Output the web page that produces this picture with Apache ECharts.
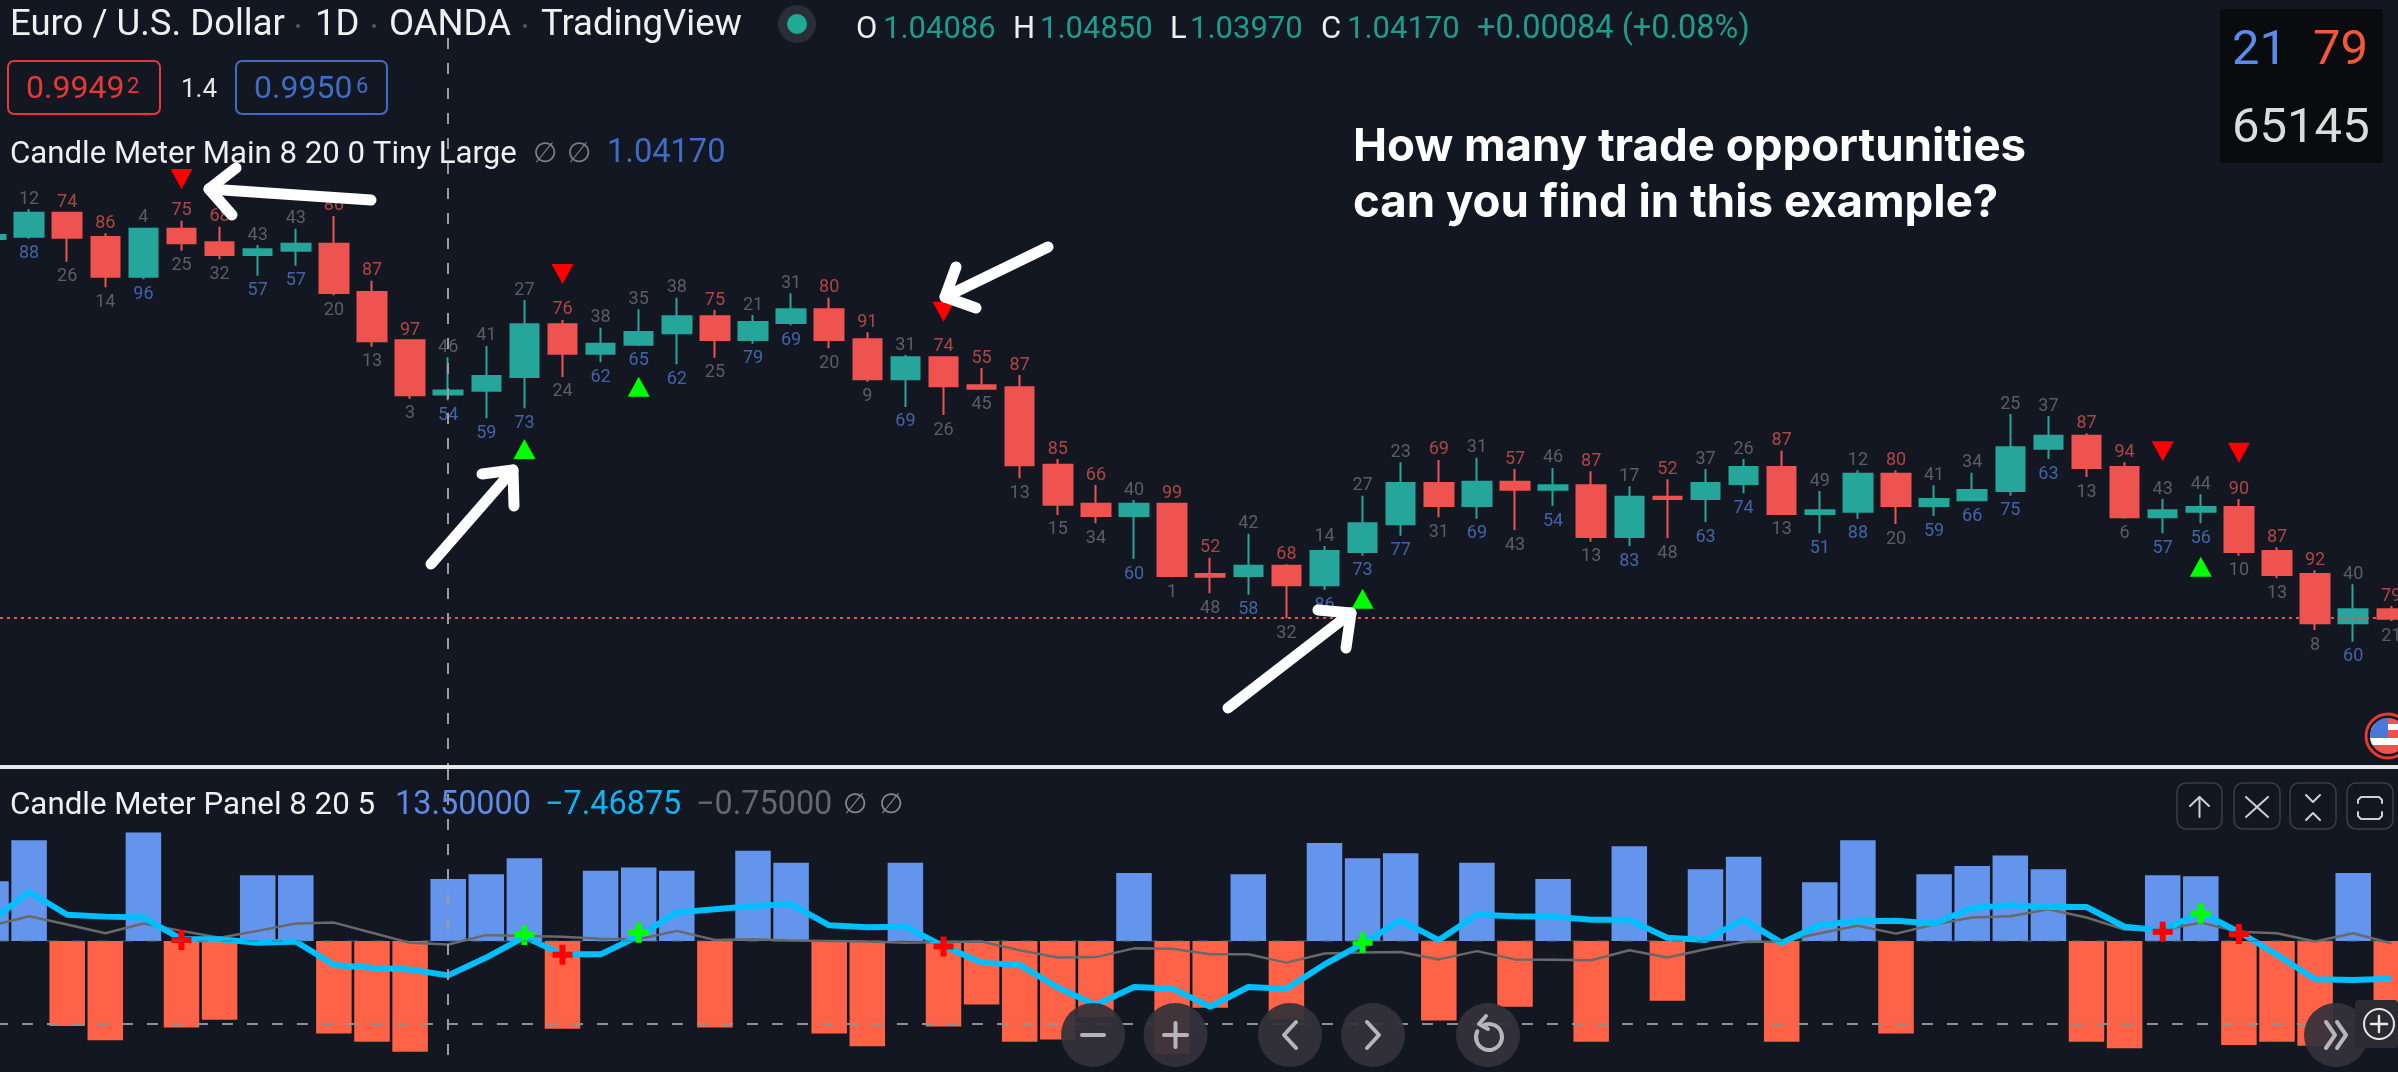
<!DOCTYPE html>
<html>
<head>
<meta charset="utf-8">
<title>Euro / U.S. Dollar 1D</title>
<script src="https://cdn.jsdelivr.net/npm/echarts@6/dist/echarts.min.js"></script>
<style>
  html, body { margin: 0; padding: 0; background: #131722; }
  #chart { width: 2398px; height: 1072px; }
</style>
</head>
<body>
<div id="chart"></div>
<script>
// daily candles, first entry is the bar cut off at the left edge
const opens = [1.07274,1.07322,1.07813,1.07315,1.06502,1.07486,1.07207,1.06947,1.07035,1.07178,1.06188,1.05199,1.04086,1.04166,1.04447,1.05526,1.04924,1.05108,1.05342,1.05690,1.05205,1.05553,1.05834,1.05219,1.04399,1.04850,1.04276,1.04235,1.02649,1.01850,1.01598,1.01850,1.00410,1.00369,1.00580,1.00178,1.00860,1.01428,1.02274,1.01803,1.02301,1.02137,1.02227,1.01168,1.01994,1.01946,1.02254,1.02602,1.01639,1.01686,1.02465,1.01803,1.01920,1.02110,1.02977,1.03244,1.02602,1.01572,1.01686,1.01783,1.00881,1.00410,0.99399,0.99686];
const closes = [1.07356,1.07813,1.07301,1.06502,1.07486,1.07186,1.06947,1.07063,1.07178,1.06168,1.05178,1.04072,1.04170,1.04467,1.05526,1.04924,1.05129,1.05369,1.05690,1.05205,1.05574,1.05834,1.05205,1.04399,1.04850,1.04256,1.04207,1.02637,1.01830,1.01598,1.01850,1.00369,1.00354,1.00580,1.00178,1.00881,1.01449,1.02274,1.01803,1.02301,1.02137,1.02227,1.01168,1.01994,1.01946,1.02274,1.02602,1.01639,1.01715,1.02465,1.01803,1.01946,1.02131,1.03006,1.03244,1.02582,1.01572,1.01715,1.01783,1.00860,1.00389,0.99399,0.99686,0.99494];
const highs = [1.07397,1.07889,1.07813,1.07391,1.07506,1.07649,1.07527,1.07151,1.07486,1.07746,1.06420,1.05199,1.04850,1.05082,1.06024,1.05615,1.05457,1.05834,1.06072,1.05819,1.05717,1.06162,1.06072,1.05362,1.04897,1.04871,1.04631,1.04487,1.02766,1.02233,1.01926,1.01850,1.00744,1.01235,1.00608,1.00983,1.02014,1.02699,1.02746,1.02793,1.02561,1.02582,1.02514,1.02207,1.02350,1.02561,1.02766,1.02936,1.02110,1.02535,1.02535,1.02227,1.02485,1.03688,1.03647,1.03293,1.02699,1.01946,1.02043,1.01946,1.00957,1.00485,1.00198,0.99754];
const lows = [1.07233,1.07281,1.06809,1.06285,1.06449,1.07035,1.06858,1.06522,1.06727,1.06121,1.05067,1.03996,1.03970,1.03600,1.03805,1.04447,1.04748,1.05082,1.04707,1.04842,1.05129,1.05506,1.05035,1.04350,1.03832,1.03668,1.04194,1.02371,1.01619,1.01449,1.00717,1.00342,1.00014,0.99986,0.99502,1.00082,1.00785,1.01194,1.01572,1.01543,1.01311,1.01803,1.01072,1.00983,1.01147,1.01475,1.02063,1.01639,1.01244,1.01543,1.01434,1.01598,1.01899,1.02014,1.02766,1.02397,1.01543,1.01244,1.01449,1.00785,1.00321,0.99262,0.99022,0.99446];

// candle meter percentages printed above and below each candle
const upperPct = [null,12,74,86,4,75,68,43,43,80,87,97,46,41,27,76,38,35,38,75,21,31,80,91,31,74,55,87,85,66,40,99,52,42,68,14,27,23,69,31,57,46,87,17,52,37,26,87,49,12,80,41,34,25,37,87,94,43,44,90,87,92,40,79];
const lowerPct = [null,88,26,14,96,25,32,57,57,20,13,3,54,59,73,24,62,65,62,25,79,69,20,9,69,26,45,13,15,34,60,1,48,58,32,86,73,77,31,69,43,54,13,83,48,63,74,13,51,88,20,59,66,75,63,13,6,57,56,10,13,8,60,21];

// signal triangles on the price pane
const sellBars = [5,15,25,57,59];
const sellPrices = [1.08504,1.06557,1.05785,1.02924,1.02893];
const buyBars = [14,17,36,58];
const buyPrices = [1.02971,1.04246,0.99901,1.00559];

// panel histogram and lines
const panelBars = [13.0,21.9,-18.5,-21.6,23.6,-18.8,-17.1,14.3,14.3,-20.1,-21.9,-24.1,13.5,14.5,18.0,-19.1,15.3,16.0,15.3,-18.8,19.6,17.0,-20.1,-22.9,17.0,-18.6,-13.8,-21.9,-21.4,-16.5,14.8,-24.5,-14.5,14.5,-17.0,21.3,18.0,19.1,-17.3,17.0,-14.3,13.5,-21.9,20.6,-13.0,15.6,18.3,-21.9,12.8,21.9,-20.1,14.5,16.3,18.6,15.6,-21.9,-23.3,14.3,14.1,-22.6,-21.9,-22.8,14.8,-21.0];
const fastLine = [4.3,10.7,5.7,5.3,5.1,0.4,0.4,-0.4,-0.1,-5.2,-5.8,-6.2,-7.47,-3.6,0.9,-2.9,-2.9,1.1,6.2,6.9,7.6,8.0,3.4,3.0,3.1,-1.1,-4.7,-5.2,-10.1,-13.9,-10.0,-10.3,-14.3,-10.0,-10.4,-5.1,-0.6,4.5,0.2,5.7,5.4,5.3,4.6,4.6,0.7,0.2,4.7,-0.4,3.5,4.3,4.4,3.8,7.2,7.8,7.4,7.4,3.1,2.3,6.2,2.0,-3.0,-8.3,-8.5,-8.2];
const slowLine = [3.3,5.4,3.6,1.7,3.8,2.2,0.7,2.2,3.8,4.0,1.8,-0.4,-0.75,1.3,1.1,0.9,0.5,0.4,2.2,0.2,0.4,0.1,0.0,-0.1,-0.4,-0.2,-0.1,-2.0,-3.6,-3.5,-1.6,-1.7,-2.9,-2.9,-4.7,-2.7,-2.5,-2.4,-4.0,-2.2,-4.0,-4.1,-4.2,-2.0,-3.6,-1.8,-0.2,-0.1,1.7,3.3,1.6,3.6,5.1,5.4,6.9,5.1,2.5,2.4,4.0,2.0,1.7,-0.1,1.7,-0.5];
const redCrossBars = [5,15,25,57,59];
const redCrossValues = [0.2,-3.0,-1.2,2.0,1.5];
const greenCrossBars = [14,17,36,58];
const greenCrossValues = [1.3,1.8,-0.4,6.0];

const lastPrice = 0.99510;
const crosshairBar = 12;
const panelLevel = -18;

const categories = opens.map((_, i) => i);

const FONT = 'Roboto';
const BG = '#131722';
const UP = '#26a69a';
const DOWN = '#ef5350';
const CROSS_PATH = 'path://M35 0H65V35H100V65H65V100H35V65H0V35H35Z';

const pctColor = (v, hot) => (v > 50 ? hot : '#6e6e76');

const upperLabels = upperPct.map((v, i) => (v === null ? null : {
  value: [i, highs[i]],
  label: { formatter: String(v), color: pctColor(v, '#d5534c') }
})).filter(Boolean);
const lowerLabels = lowerPct.map((v, i) => (v === null ? null : {
  value: [i, lows[i]],
  label: { formatter: String(v), color: pctColor(v, '#5077c8') }
})).filter(Boolean);

const zip = (xs, ys) => xs.map((x, i) => [x, ys[i]]);

// overlay helpers, these are chrome around the chart and not chart marks
const text = (x, y, str, size, color, extra) => ({
  type: 'text', z: 100, x, y,
  style: Object.assign({ text: str, font: size + 'px ' + FONT, fill: color, align: 'left', verticalAlign: 'middle' }, extra || {})
});
const box = (x, y, w, h, r, stroke, fill, lineWidth) => ({
  type: 'rect', z: 90, shape: { x, y, width: w, height: h, r },
  style: { fill: fill || 'transparent', stroke: stroke || 'transparent', lineWidth: lineWidth || 2 }
});
const stroke = (points, color, width, z) => ({
  type: 'polyline', z: z || 120, shape: { points },
  style: { fill: null, stroke: color, lineWidth: width, lineCap: 'round', lineJoin: 'round' }
});
const circle = (cx, cy, r, fill, line, lineWidth, z) => ({
  type: 'circle', z: z || 110, shape: { cx, cy, r },
  style: { fill, stroke: line || 'transparent', lineWidth: lineWidth || 0 }
});
const arrow = (tail, tip, h1, h2) => [
  stroke([tail, tip], '#ffffff', 11, 130),
  stroke([h1, tip, h2], '#ffffff', 11, 130)
];

const flag = 'data:image/svg+xml,' + encodeURIComponent(
  '<svg xmlns="http://www.w3.org/2000/svg" width="48" height="48"><defs><clipPath id="c"><circle cx="24" cy="24" r="18"/></clipPath></defs>' +
  '<g clip-path="url(#c)"><rect width="48" height="48" fill="#ef5350"/><rect y="26" width="48" height="7" fill="#fff"/><rect y="12" width="48" height="6" fill="#fff"/><rect width="24" height="26" fill="#4a78d8"/></g>' +
  '<circle cx="24" cy="24" r="22" fill="none" stroke="#e53935" stroke-width="3"/></svg>');

const NAV = 'rgba(52,50,57,0.93)';
const ICON = '#b6b6ba';
const graphics = [
  // header
  text(10, 26, 'Euro / U.S. Dollar', 36.5, '#f0f0f0'),
  circle(298, 26, 2, '#55585f'),
  text(315, 26, '1D', 36.5, '#f0f0f0'),
  circle(374, 26, 2, '#55585f'),
  text(389, 26, 'OANDA', 36.5, '#f0f0f0'),
  circle(525, 26, 2, '#55585f'),
  text(541, 26, 'TradingView', 36.5, '#f0f0f0'),
  circle(797, 24, 19, '#2a2e39'),
  circle(797, 24, 10, '#22ab94', null, 0, 111),
  text(856, 30, 'O', 31, '#f0f0f0'),
  text(883, 30, '1.04086', 31, '#1f9c8c'),
  text(1013, 30, 'H', 31, '#f0f0f0'),
  text(1040, 30, '1.04850', 31, '#1f9c8c'),
  text(1170, 30, 'L', 31, '#f0f0f0'),
  text(1190, 30, '1.03970', 31, '#1f9c8c'),
  text(1321, 30, 'C', 31, '#f0f0f0'),
  text(1347, 30, '1.04170', 31, '#1f9c8c'),
  text(1477, 30, '+0.00084 (+0.08%)', 32.5, '#1f9c8c'),
  // bid / ask boxes
  box(8, 61, 152, 53, 6, '#e53935'),
  text(26, 90, '0.9949', 32, '#e53935'),
  text(127, 87, '2', 22, '#e53935'),
  text(181, 90, '1.4', 26, '#e8e8e8'),
  box(236, 61, 151, 53, 6, '#3f6cc4'),
  text(254, 90, '0.9950', 32, '#3f6cc4'),
  text(356, 87, '6', 22, '#3f6cc4'),
  // indicator legends
  text(10, 155.5, 'Candle Meter Main 8 20 0 Tiny Large', 31.2, '#f0f0f0'),
  text(533, 155, '∅', 28, '#7c7c82'),
  text(567, 155, '∅', 28, '#7c7c82'),
  text(607, 154, '1.04170', 32.6, '#3f6cc4'),
  text(10, 806, 'Candle Meter Panel 8 20 5', 31.3, '#f0f0f0'),
  text(395, 806, '13.50000', 32.4, '#5f8be6'),
  text(545, 806, '−7.46875', 32.4, '#12b3f0'),
  text(696, 806, '−0.75000', 32.4, '#66666c'),
  text(843, 806, '∅', 28, '#85858a'),
  text(879, 806, '∅', 28, '#85858a'),
  // annotation
  text(1353, 147, 'How many trade opportunities', 45.6, '#ffffff', { font: 'bold 45.6px Inter' }),
  text(1353, 203, 'can you find in this example?', 45.6, '#ffffff', { font: 'bold 45.6px Inter' }),
  // counters box
  box(2220, 9, 163, 154, 0, null, '#0a0b0f', 0),
  text(2232, 52, '21', 49, '#5b8be8'),
  text(2313, 52, '79', 49, '#f0583c'),
  text(2232, 130, '65145', 49, '#dcdcdc'),
  // divider between panes
  { type: 'rect', z: 95, shape: { x: 0, y: 765, width: 2398, height: 4 }, style: { fill: '#e8e8ea' } },
  // flag
  { type: 'image', z: 100, style: { image: flag, x: 2364, y: 712, width: 48, height: 48 } },
  // pane buttons
  box(2177, 783, 45, 46, 9, '#3c3c44', null, 1.5),
  box(2234, 783, 46, 46, 9, '#3c3c44', null, 1.5),
  box(2290, 783, 46, 46, 9, '#3c3c44', null, 1.5),
  box(2347, 783, 46, 46, 9, '#3c3c44', null, 1.5),
  stroke([[2199.5, 817], [2199.5, 797]], '#cfcfd2', 2),
  stroke([[2190, 806], [2199.5, 797], [2209, 806]], '#cfcfd2', 2),
  stroke([[2246, 797], [2268, 817]], '#cfcfd2', 2),
  stroke([[2268, 797], [2246, 817]], '#cfcfd2', 2),
  stroke([[2306, 795], [2313, 802], [2320, 795]], '#cfcfd2', 2),
  stroke([[2306, 820], [2313, 813], [2320, 820]], '#cfcfd2', 2),
  stroke([[2358, 803], [2358, 800], [2361, 797], [2379, 797], [2382, 800], [2382, 803]], '#cfcfd2', 2),
  stroke([[2358, 812], [2358, 816], [2361, 819], [2379, 819], [2382, 816], [2382, 812]], '#cfcfd2', 2),
  // bottom navigation
  circle(1093, 1035, 32, NAV),
  stroke([[1082, 1035], [1104, 1035]], ICON, 4),
  circle(1175.5, 1035, 32, NAV),
  stroke([[1164, 1035], [1187, 1035]], ICON, 4),
  stroke([[1175.5, 1023], [1175.5, 1047]], ICON, 4),
  circle(1290, 1035, 32, NAV),
  stroke([[1296, 1022], [1284, 1035], [1296, 1048]], ICON, 4),
  circle(1373, 1035, 32, NAV),
  stroke([[1367, 1022], [1379, 1035], [1367, 1048]], ICON, 4),
  circle(1488, 1035, 32, NAV),
  { type: 'arc', z: 120, shape: { cx: 1489, cy: 1037, r: 13, startAngle: -1.9, endAngle: 3.6, clockwise: true }, style: { fill: null, stroke: ICON, lineWidth: 4, lineCap: 'round' } },
  stroke([[1486, 1016], [1479, 1024], [1488, 1029]], ICON, 4),
  circle(2336, 1035, 32, NAV),
  stroke([[2326, 1022], [2335, 1035], [2326, 1048]], ICON, 4),
  stroke([[2337, 1022], [2346, 1035], [2337, 1048]], ICON, 4),
  { type: 'rect', z: 111, shape: { x: 2355, y: 1000, width: 43, height: 48, r: 4 }, style: { fill: '#2a2a30' } },
  circle(2379, 1024, 15, 'transparent', '#e8e8ea', 2, 112),
  stroke([[2371, 1024], [2387, 1024]], '#e8e8ea', 2.5),
  stroke([[2379, 1016], [2379, 1032]], '#e8e8ea', 2.5)
].concat(
  arrow([371, 200], [209, 189], [236, 168], [232, 215]),
  arrow([431, 564], [513, 470], [482, 474], [514, 506]),
  arrow([1048, 247], [945, 297], [956, 267], [976, 308]),
  arrow([1228, 708], [1351, 613], [1318, 610], [1346, 648])
);

const crosshairStyle = { color: '#9a9aa2', width: 2, type: [11, 14] };

const option = {
  animation: false,
  backgroundColor: BG,
  grid: [
    { left: -28.05, width: 2438.4, top: 0, height: 765, outerBoundsMode: 'none' },
    { left: -28.05, width: 2438.4, top: 767, height: 305, outerBoundsMode: 'none' }
  ],
  xAxis: [
    { type: 'category', gridIndex: 0, data: categories, show: false },
    { type: 'category', gridIndex: 1, data: categories, show: false }
  ],
  yAxis: [
    { type: 'value', gridIndex: 0, min: 0.96496, max: 1.12172, show: false, splitLine: { show: false } },
    { type: 'value', gridIndex: 1, min: -28.48, max: 37.83, show: false, splitLine: { show: false } }
  ],
  series: [
    {
      type: 'candlestick', name: 'EURUSD', xAxisIndex: 0, yAxisIndex: 0, barWidth: 29,
      data: opens.map((o, i) => [o, closes[i], lows[i], highs[i]]),
      itemStyle: { color: UP, color0: DOWN, borderColor: UP, borderColor0: DOWN, borderWidth: 2 }
    },
    {
      type: 'scatter', name: 'upper', xAxisIndex: 0, yAxisIndex: 0, symbolSize: 0, data: upperLabels,
      label: { show: true, position: 'top', distance: 1, fontSize: 18, fontFamily: FONT },
      markLine: {
        silent: true, symbol: 'none', label: { show: false }, animation: false, precision: 5,
        data: [
          { yAxis: lastPrice, lineStyle: { color: DOWN, width: 2, type: [3, 4] } },
          [{ coord: [crosshairBar, 1.11393], lineStyle: crosshairStyle }, { coord: [crosshairBar, 0.96496] }]
        ]
      }
    },
    {
      type: 'scatter', name: 'lower', xAxisIndex: 0, yAxisIndex: 0, symbolSize: 0, data: lowerLabels,
      label: { show: true, position: 'bottom', distance: 6, fontSize: 18, fontFamily: FONT }
    },
    {
      type: 'scatter', name: 'sell', xAxisIndex: 0, yAxisIndex: 0, symbol: 'triangle', symbolRotate: 180, symbolSize: [22, 20],
      data: zip(sellBars, sellPrices), itemStyle: { color: '#ff0000', opacity: 1 }
    },
    {
      type: 'scatter', name: 'buy', xAxisIndex: 0, yAxisIndex: 0, symbol: 'triangle', symbolSize: [22, 20],
      data: zip(buyBars, buyPrices), itemStyle: { color: '#00ff00', opacity: 1 }
    },
    {
      type: 'bar', name: 'meter', xAxisIndex: 1, yAxisIndex: 1, barWidth: 35.5,
      data: panelBars,
      itemStyle: { color: p => (p.value >= 0 ? '#6495ed' : '#ff6347') },
      markLine: {
        silent: true, symbol: 'none', label: { show: false }, animation: false, z: 6, precision: 3,
        data: [
          { yAxis: 0, lineStyle: { color: 'rgba(80,110,120,0.45)', width: 2, type: [11, 14] } },
          { yAxis: panelLevel, lineStyle: { color: '#8f9095', width: 2, type: [11, 14] } },
          [{ coord: [crosshairBar, 37.4], lineStyle: crosshairStyle }, { coord: [crosshairBar, -25.4] }]
        ]
      }
    },
    {
      type: 'line', name: 'slow', xAxisIndex: 1, yAxisIndex: 1, data: slowLine, symbol: 'none', z: 3,
      lineStyle: { color: '#696969', width: 2.5 }
    },
    {
      type: 'line', name: 'fast', xAxisIndex: 1, yAxisIndex: 1, data: fastLine, symbol: 'none', z: 4,
      lineStyle: { color: '#00bfff', width: 6 }
    },
    {
      type: 'scatter', name: 'cross down', xAxisIndex: 1, yAxisIndex: 1, symbol: CROSS_PATH, symbolSize: 20, z: 5,
      data: zip(redCrossBars, redCrossValues), itemStyle: { color: '#ff0000', opacity: 1 }
    },
    {
      type: 'scatter', name: 'cross up', xAxisIndex: 1, yAxisIndex: 1, symbol: CROSS_PATH, symbolSize: 20, z: 5,
      data: zip(greenCrossBars, greenCrossValues), itemStyle: { color: '#00ff00', opacity: 1 }
    }
  ],
  graphic: graphics
};

const chart = echarts.init(document.getElementById('chart'), null, { renderer: 'canvas' });
chart.setOption(option);
</script>
</body>
</html>
